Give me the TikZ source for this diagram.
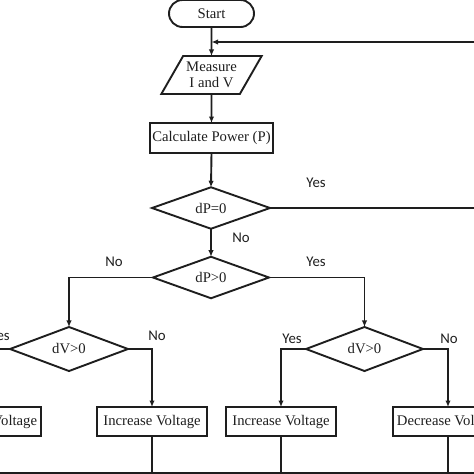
\documentclass[tikz,border=0pt]{standalone}
\usepackage{fontspec}
\setmainfont{Liberation Serif}
\newfontfamily\lblfont{Carlito}
\usetikzlibrary{shapes.geometric,arrows.meta}
\definecolor{ink}{HTML}{1E1E1E}
\begin{document}
\begin{tikzpicture}[x=1pt,y=-1pt,
  every node/.style={font=\fontsize{14.7}{17}\selectfont, text=ink},
  basebox/.style={draw=ink, line width=1.9pt, inner sep=0pt, outer sep=0pt},
  termbox/.style={basebox, rectangle, rounded corners=13.5pt, minimum width=85pt, minimum height=27pt},
  iobox/.style={basebox, trapezium, trapezium left angle=53, trapezium right angle=127, trapezium stretches=true, minimum width=101pt, minimum height=38pt, align=center},
  procbox/.style={basebox, rectangle, minimum width=110pt, minimum height=29pt},
  decbox/.style={basebox, diamond, minimum width=118pt, minimum height=40pt},
  lbl/.style={font=\lblfont\fontsize{14.8}{16}\selectfont, inner sep=0pt},
  conn/.style={draw=ink, line width=1.9pt},
  arr/.style={conn, -{Latex[length=6.5pt,width=5.5pt]}}
]
\useasboundingbox (0,0) rectangle (474,474);
\clip (0,0) rectangle (474,474);

\node[termbox] (start) at (211.5,13.5) {Start};
\node[iobox] (meas) at (211.5,75) {Measure\\[-1pt]I and V};
\node[procbox, minimum width=123pt, minimum height=30pt] (calc) at (211.5,138) {Calculate Power (P)};
\node[decbox] (d1) at (211,208) {dP=0};
\node[decbox, minimum width=116pt, minimum height=39pt] (d2) at (211,277.5) {dP>0};
\node[decbox] (d3) at (69,349) {dV>0};
\node[decbox, minimum width=117pt] (d4) at (364.5,349) {dV>0};
\node[procbox] (b1) at (-14,421.5) {Decrease Voltage};
\node[procbox] (b2) at (152,421.5) {Increase Voltage};
\node[procbox] (b3) at (281,421.5) {Increase Voltage};
\node[procbox] (b4) at (448,421.5) {Decrease Voltage};

\coordinate (j1) at (211.5,42);
\coordinate (fb) at (495,0);
\coordinate (botL) at (-100,473);
\coordinate (botR) at (600,473);

\draw[arr] (start.south) -- (meas.north);
\draw[arr] (meas.south) -- (calc.north);
\draw[arr] (calc.south) -- (d1.north);
\draw[arr] (d1.south) -- (d2.north);
\draw[arr] (d1.east) -- (d1.east -| fb) |- (j1);
\draw[arr] (d2.west) -| (d3.north);
\draw[arr] (d2.east) -| (d4.north);
\draw[arr] (d3.west) -| (b1.north);
\draw[arr] (d3.east) -| (b2.north);
\draw[arr] (d4.west) -| (b3.north);
\draw[arr] (d4.east) -| (b4.north);
\draw[conn] (b1.south) -- (b1.south |- botL);
\draw[conn] (b2.south) -- (b2.south |- botL);
\draw[conn] (b3.south) -- (b3.south |- botL);
\draw[conn] (b4.south) -- (b4.south |- botL);
\draw[conn] (botL) -- (botR);

\node[lbl] (l1) at (316,183) {Yes};
\node[lbl] (l2) at (241,238) {No};
\node[lbl] (l3) at (114,262) {No};
\node[lbl] (l4) at (316,262) {Yes};
\node[lbl] (l5) at (0,336) {Yes};
\node[lbl] (l6) at (157,336) {No};
\node[lbl] (l7) at (292,339) {Yes};
\node[lbl] (l8) at (449,339) {No};
\end{tikzpicture}
\end{document}
